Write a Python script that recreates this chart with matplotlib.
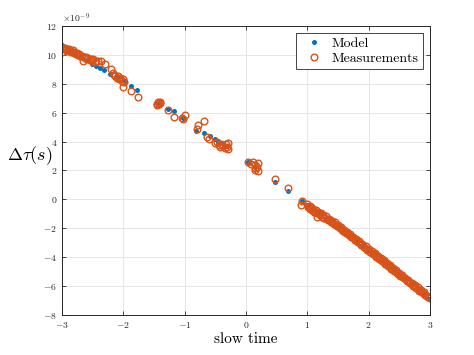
import numpy as np
import matplotlib
matplotlib.use("Agg")
import matplotlib.pyplot as plt
from matplotlib.ticker import ScalarFormatter

plt.rcParams['font.family'] = 'serif'
plt.rcParams['font.serif'] = ['cmr10', 'DejaVu Serif']
plt.rcParams['mathtext.fontset'] = 'cm'
plt.rcParams['axes.unicode_minus'] = False
plt.rcParams['axes.formatter.use_mathtext'] = True

# 模型值 (单位 1e-9 s)
model_t = [-3.00, -2.90, -2.80, -2.70, -2.60, -2.52, -2.45, -2.38, -2.32, -2.22,
           -2.10, -1.97, -1.87, -1.77, -1.43, -1.27, -1.18, -1.03, -0.81, -0.68,
           -0.58, -0.51, -0.45, -0.38, -0.31, 0.04, 0.15, 0.47, 0.69, 0.91,
           1.00, 1.10, 1.20, 1.30, 1.40, 1.50, 1.60, 1.70, 1.80, 1.90,
           2.00, 2.10, 2.20, 2.30, 2.40, 2.50, 2.60, 2.70, 2.80, 2.90, 2.99]
model_d = [10.66, 10.40, 10.15, 9.90, 9.62, 9.35, 9.22, 9.08, 8.95, 8.70,
           8.45, 8.21, 7.85, 7.55, 6.63, 6.23, 6.12, 5.63, 4.76, 4.57,
           4.39, 4.16, 3.98, 3.82, 3.70, 2.60, 2.26, 1.22, 0.54, -0.09,
           -0.40, -0.72, -1.02, -1.30, -1.60, -1.88, -2.20, -2.50, -2.84, -3.17,
           -3.50, -3.82, -4.15, -4.47, -4.80, -5.14, -5.48, -5.82, -6.16, -6.60, -6.90]

# 测量值
meas_t = [-3.00, -2.99, -2.97, -2.96, -2.94, -2.93, -2.91, -2.90, -2.88, -2.86,
          -2.85, -2.83, -2.81, -2.80, -2.78, -2.76, -2.74, -2.72, -2.70, -2.68,
          -2.66, -2.65, -2.63, -2.61, -2.59, -2.57, -2.55, -2.53, -2.51, -2.49,
          -2.47, -2.45, -2.41, -2.36, -2.30, -2.20, -2.17, -2.15, -2.13, -2.11,
          -2.09, -2.07, -2.05, -2.03, -2.01, -1.99, -2.00, -1.87, -1.76,
          -1.46, -1.44, -1.42, -1.40, -1.45, -1.41, -1.27, -1.18, -1.00, -1.03, -1.05,
          -0.69, -0.78, -0.80, -0.63, -0.61, -0.50, -0.47, -0.44, -0.42, -0.40,
          -0.37, -0.35, -0.33, -0.31, -0.29, -0.30,
          0.04, 0.08, 0.12, 0.15, 0.19, 0.14, 0.15, 0.20, 0.18,
          0.47, 0.69, 0.91, 0.90,
          1.00, 1.02, 1.04, 1.05, 1.07, 1.09, 1.10, 1.12, 1.14, 1.15, 1.16, 1.18,
          1.20, 1.22, 1.24, 1.26, 1.28, 1.30, 1.33, 1.35, 1.38, 1.40, 1.43, 1.45,
          1.48, 1.50, 1.53, 1.55, 1.58, 1.60, 1.63, 1.65, 1.68, 1.70, 1.73, 1.75,
          1.78, 1.80, 1.83, 1.85, 1.88, 1.90, 1.93, 1.95, 1.98, 2.00, 2.03, 2.05,
          2.08, 2.10, 2.13, 2.15, 2.18, 2.20, 2.23, 2.25, 2.28, 2.30, 2.33, 2.35,
          2.38, 2.40, 2.43, 2.45, 2.48, 2.50, 2.53, 2.55, 2.58, 2.60, 2.63, 2.65,
          2.68, 2.70, 2.73, 2.75, 2.78, 2.80, 2.83, 2.85, 2.88, 2.90, 2.92, 2.95,
          2.97, 3.00,
          1.01, 1.06, 1.11, 1.17, 1.21, 1.27, 1.32, 1.37, 1.42, 1.47, 1.52, 1.57,
          1.62, 1.67, 1.72, 1.77, 1.82, 1.87, 1.92, 1.97, 2.02, 2.07, 2.12, 2.17,
          2.22, 2.27, 2.32, 2.37, 2.42, 2.47, 2.52, 2.57, 2.62, 2.67, 2.72, 2.77,
          2.82, 2.87, 2.91, 2.96]
meas_d = [10.20, 10.45, 10.38, 10.50, 10.30, 10.42, 10.35, 10.25, 10.40, 10.28,
          10.18, 10.30, 10.12, 10.22, 10.05, 10.15, 9.98, 10.05, 9.90, 9.95,
          9.56, 9.85, 9.78, 9.88, 9.70, 9.80, 9.62, 9.72, 9.55, 9.68,
          9.50, 9.60, 9.56, 9.60, 9.37, 9.05, 8.75, 8.60, 8.50, 8.40,
          8.55, 8.30, 8.42, 8.20, 8.35, 8.15, 7.76, 7.50, 7.11,
          6.62, 6.70, 6.60, 6.68, 6.55, 6.72, 6.16, 5.72, 5.84, 5.56, 5.62,
          5.45, 5.15, 4.85, 4.34, 4.16, 3.93, 3.95, 3.75, 3.60, 3.85,
          3.70, 3.55, 3.80, 3.65, 3.45, 3.90,
          2.61, 2.45, 2.55, 2.38, 2.50, 2.15, 2.03, 1.99, 2.25,
          1.41, 0.77, -0.11, -0.39,
          -0.35, -0.55, -0.48, -0.70, -0.60, -0.78, -0.65, -0.90, -0.75, -1.20, -0.95, -0.88,
          -1.08, -0.98, -1.20, -1.10, -1.30, -1.18, -1.45, -1.33, -1.58, -1.48, -1.70, -1.60,
          -1.85, -1.78, -2.00, -1.92, -2.18, -2.10, -2.33, -2.25, -2.48, -2.42, -2.64, -2.58,
          -2.80, -2.74, -2.97, -2.90, -3.14, -3.08, -3.30, -3.24, -3.48, -3.42, -3.65, -3.58,
          -3.80, -3.74, -3.97, -3.90, -4.13, -4.06, -4.30, -4.22, -4.46, -4.38, -4.62, -4.56,
          -4.80, -4.73, -4.97, -4.90, -5.14, -5.08, -5.30, -5.24, -5.48, -5.42, -5.64, -5.58,
          -5.82, -5.76, -5.98, -5.92, -6.15, -6.10, -6.33, -6.26, -6.50, -6.45, -6.62, -6.70,
          -6.78, -6.80,
          -0.52, -0.58, -0.85, -0.92, -1.00, -1.30, -1.35, -1.45, -1.65, -1.75, -1.95, -2.12,
          -2.28, -2.40, -2.62, -2.80, -2.94, -3.12, -3.30, -3.45, -3.62, -3.80, -3.97, -4.12,
          -4.28, -4.46, -4.60, -4.80, -4.95, -5.12, -5.28, -5.45, -5.62, -5.78, -5.95, -6.12,
          -6.28, -6.45, -6.58, -6.72]

blue = '#0072BD'
orange = '#D95319'

fig = plt.figure(figsize=(4.74, 3.55), dpi=100)
ax = fig.add_axes([0.131, 0.113, 0.776, 0.814])

ax.plot(model_t, np.array(model_d) * 1e-9, 'o', color=blue, markersize=3.6,
        markeredgewidth=0, label='Model')
ax.plot(meas_t, np.array(meas_d) * 1e-9, 'o', color=orange, markerfacecolor='none',
        markersize=4.8, markeredgewidth=1.0, label='Measurements')

ax.set_xlim(-3, 3)
ax.set_ylim(-8e-9, 12e-9)
ax.set_xticks(np.arange(-3, 4, 1))
ax.set_yticks(np.arange(-8, 13, 2) * 1e-9)
fmt = ScalarFormatter(useMathText=True)
fmt.set_powerlimits((-9, -9))
ax.yaxis.set_major_formatter(fmt)
ax.yaxis.get_offset_text().set_fontsize(7)

ax.grid(True, color='#dcdcdc', linewidth=0.5)
ax.set_axisbelow(True)
ax.tick_params(direction='in', length=3, width=0.6, labelsize=7, colors='#262626',
               top=True, right=True)
for s in ax.spines.values():
    s.set_color('#262626')
    s.set_linewidth(0.7)

ax.set_xlabel('slow time', fontsize=11, labelpad=2)
ax.set_ylabel(r'$\Delta\tau(s)$', fontsize=13, rotation=0, va='center', ha='center')
ax.yaxis.set_label_coords(-0.088, 0.55)

leg = ax.legend(loc='upper right', fontsize=10, fancybox=False, framealpha=1,
                edgecolor='#262626', borderpad=0.3, handletextpad=0.3,
                borderaxespad=0.5, labelspacing=0.2)
leg.get_frame().set_linewidth(0.6)

fig.savefig('out.png', dpi=100)
